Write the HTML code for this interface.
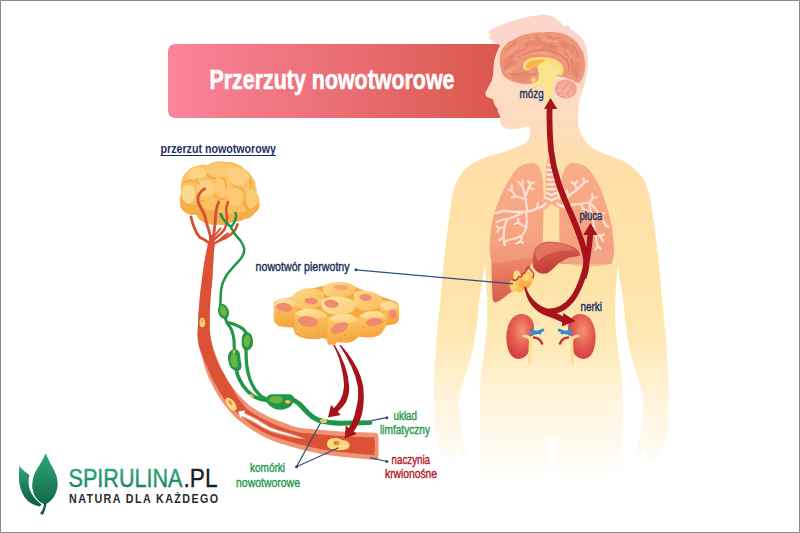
<!DOCTYPE html>
<html lang="pl"><head><meta charset="utf-8"><title>Przerzuty nowotworowe</title>
<style>
html,body{margin:0;padding:0;background:#fff;}
body{width:800px;height:533px;overflow:hidden;position:relative;font-family:"Liberation Sans",sans-serif;}
svg{position:absolute;left:0;top:0;display:block}
text{font-family:"Liberation Sans",sans-serif;}
</style></head><body>
<svg width="800" height="533" viewBox="0 0 800 533">
<defs>
<linearGradient id="gBanner" x1="0" y1="0" x2="1" y2="0">
<stop offset="0" stop-color="#fb849b"/><stop offset="0.5" stop-color="#ea6e74"/><stop offset="1" stop-color="#d9564a"/>
</linearGradient>
<linearGradient id="gBody" gradientUnits="userSpaceOnUse" x1="0" y1="30" x2="0" y2="480">
<stop offset="0" stop-color="#fcdccb"/><stop offset="0.2" stop-color="#fddcc0"/><stop offset="0.3" stop-color="#ffdfa8"/>
<stop offset="0.555" stop-color="#fee3a8"/><stop offset="0.69" stop-color="#fee8b5"/><stop offset="0.8" stop-color="#fff2d6"/><stop offset="0.91" stop-color="#fff9ee"/><stop offset="1" stop-color="#ffffff"/>
</linearGradient>
<radialGradient id="gKid" cx="0.55" cy="0.38" r="0.65">
<stop offset="0" stop-color="#f5946e"/><stop offset="0.55" stop-color="#e35c53"/><stop offset="1" stop-color="#d23b3b"/>
</radialGradient>
<linearGradient id="gLiverD" x1="0" y1="0" x2="0.3" y2="1">
<stop offset="0" stop-color="#e06a56"/><stop offset="1" stop-color="#c23a37"/>
</linearGradient>
<linearGradient id="gLiverL" x1="0" y1="0" x2="0" y2="1">
<stop offset="0" stop-color="#ef9575"/><stop offset="0.45" stop-color="#ea7e63"/><stop offset="1" stop-color="#d95a49"/>
</linearGradient>
<radialGradient id="gTum" cx="0.45" cy="0.35" r="0.7">
<stop offset="0" stop-color="#fdd88a"/><stop offset="0.6" stop-color="#fbc062"/><stop offset="1" stop-color="#f6a945"/>
</radialGradient>
<linearGradient id="gLogo" x1="0" y1="0" x2="0" y2="1">
<stop offset="0" stop-color="#2fa779"/><stop offset="1" stop-color="#0e5a3c"/>
</linearGradient>
<linearGradient id="gLogoT" gradientUnits="userSpaceOnUse" x1="0" y1="467" x2="0" y2="488">
<stop offset="0" stop-color="#35ab80"/><stop offset="1" stop-color="#17835a"/>
</linearGradient>
<linearGradient id="gLung" gradientUnits="userSpaceOnUse" x1="0" y1="162" x2="0" y2="264">
<stop offset="0" stop-color="#f8ae8a"/><stop offset="0.7" stop-color="#f6a380"/><stop offset="1" stop-color="#f39d7c"/>
</linearGradient>
<linearGradient id="gCellSide" x1="0" y1="0" x2="0.2" y2="1">
<stop offset="0" stop-color="#fcca70"/><stop offset="0.6" stop-color="#f9b852"/><stop offset="1" stop-color="#f6a640"/>
</linearGradient>
<linearGradient id="gCellTop" x1="0" y1="0" x2="1" y2="1">
<stop offset="0" stop-color="#fee6a8"/><stop offset="1" stop-color="#fccb74"/>
</linearGradient>
<linearGradient id="gCellTopB" x1="0" y1="0" x2="1" y2="1">
<stop offset="0" stop-color="#fdd88a"/><stop offset="1" stop-color="#fabb58"/>
</linearGradient>
</defs>

<!-- ===== BANNER ===== -->
<g id="banner">
<path d="M176,44 H510 V118 H176 Q168,118 168,110 V52 Q168,44 176,44 Z" fill="url(#gBanner)"/>
<text x="209.5" y="89" font-size="27.6" font-weight="bold" fill="#fff" stroke="#fff" stroke-width="0.6" stroke-linejoin="round" textLength="245" lengthAdjust="spacingAndGlyphs">Przerzuty nowotworowe</text>
</g>

<!-- ===== BODY ===== -->
<g id="body">
<path id="silhouette" fill="url(#gBody)" d="
M 506,36 L 500.3,45 Q 495,55 493.8,63.3 L 493,75.7 L 491.5,81 L 485.5,92.5 Q 485,95.5 487.5,97.2 L 493,99.2 L 494.2,104.2 L 496,107 L 498,109.8 L 497.5,111.6 L 499.3,114 L 500.3,117.2
Q 499.5,121 500.5,123.5 Q 503,128.5 510,129.6 L 520,128.4 Q 526,127 528.5,126 Q 530.3,128 530.2,132 L 530,136
Q 529,141 523.3,144 Q 516,148 507.6,150.7 Q 496,154 485,157.4 Q 474,161.5 467,167.6 Q 460,174 455.8,183.3 Q 452.5,192 451.3,201.4 L 448.4,223.7 L 444.5,255.3 L 440.7,296.3 L 436.6,337.6 L 434,378.9 L 434,420
Q 434.5,432 436.6,440.8 Q 439,450 443,456 Q 447,462 450,461 Q 453,459 455,453 L 458,446 Q 459,452 462,455 Q 465,456 466.3,453 L 464.2,440.8 Q 460.5,430 460,420 L 458.9,399.5
Q 461,388 464,379 L 468,367.8 Q 471.5,355 473.7,345.2 L 477,322.7 L 479.3,300 L 485,265 L 487.2,300 L 487.2,322.7 Q 486.5,335 485,345.2 Q 483.5,357 481.6,367.8 Q 480.2,378 480,390 L 480,492 L 548,492 L 549,438 L 555,438 L 556,492 L 622.5,492
L 622.5,390 Q 622.3,378 620.9,367.8 Q 619,357 617.5,345.2 Q 616,335 615.3,322.7 L 615.3,300 L 617.5,265 L 623.2,300 L 625.5,322.7 L 628.8,345.2 Q 631,355 634.5,367.8 L 638.5,379 Q 641.5,388 643.6,399.5 L 642.5,420 Q 642,430 638.3,440.8
L 636.2,453 Q 637.5,456 640.5,455 Q 643.5,452 644.5,446 L 647.5,453 Q 649.5,459 652.5,461 Q 655.5,462 659.5,456 Q 663.5,450 665.9,440.8 Q 668,432 668.5,420
L 668.5,378.9 L 665.9,337.6 L 661.8,296.3 L 658,255.3 L 654.1,223.7 L 650.1,197.4 Q 648.5,188 643.5,179 Q 637.5,170 627.8,163.2 Q 623,160.8 618.5,159 Q 608,155.5 600.5,152.3 Q 592,148.5 587,143.3 Q 582,138 580.3,132 Q 578,126 578,120.8 L 578.5,105
Q 579.5,99 581.4,93.8 Q 585,84 586,78 Q 588.5,68 588,60 Q 586,40 566,28 Q 540,18 520,26 Q 510,30 506,36 Z"/>
</g>



<!-- ===== ORGANS ===== -->
<g id="organs">
<!-- trachea -->
<path fill="#f7ad8c" d="M546,166 L548,158.500 L551.500,158.500 L556.500,166 L557,197 L563,205 L560.500,209.500 L551.500,204 L545,209.500 L542,205.500 L545.500,197 Z"/>
<g fill="#fde8df">
<rect x="546.800" y="163.800" width="8.500" height="2.200" rx="1"/><rect x="546.300" y="168.700" width="10" height="2.200" rx="1"/><rect x="546.300" y="173.600" width="10.200" height="2.200" rx="1"/>
<rect x="546.300" y="178.500" width="10.300" height="2.200" rx="1"/><rect x="546.300" y="183.300" width="10.400" height="2.200" rx="1"/><rect x="546.300" y="188" width="10.400" height="2.200" rx="1"/>
</g>
<g fill="none" stroke="#fde8df" stroke-width="2.100" stroke-linecap="round" stroke-linejoin="round">
<path d="M546.500,192.800 L551.400,195.300 L556.500,192.800"/><path d="M546,197.600 L551.400,200.300 L557,197.600"/>
</g>
<!-- left lung (viewer left) -->
<path id="lungL" fill="url(#gLung)" d="M532.500,162.800 Q537,163 539.700,167.400 Q542.500,173 542.800,179.800 L543.800,196.300 L543.400,217 L542.800,241.700 L542.500,263 L492.500,263 Q489.500,256 489.500,248 Q489.800,237 491.200,227.300 Q493,216 496.400,206.600 Q500,196 505.600,186 Q510,177 516,169.500 Q524,162.500 532.500,162.800 Z"/>
<!-- right lung -->
<path id="lungR" fill="url(#gLung)" d="M572.800,162.800 Q568,163 564.500,169.500 Q561.500,175 560.800,181.800 L559.400,206.600 L559.400,237.600 L559.800,264 L611.500,264 Q614.200,256 614,248 Q613.500,237 612,227.300 Q610,216 606.800,206.600 Q603.500,196 599.600,186 Q595,177 589.300,169.500 Q581,162.500 572.800,162.800 Z"/>
<!-- bronchi -->
<g fill="none" stroke="#fcdfd4" stroke-linecap="round" stroke-linejoin="round">
<path stroke-width="2.650" d="M545.500,204 Q541,208 536.600,208.700 Q531,211.500 526.300,211.800 L513.900,211.800 Q508,211 503.600,210.800 L496.400,213"/>
<path stroke-width="2.250" d="M527.500,211.500 Q526,203 525.300,196.300 Q524,190 522.200,186 L518,181.500 M522.200,186 L522.800,180.500 M525.300,196.300 Q528,190 530.400,184 L528,181 M530.400,184 L534,182.500 M529,188 L533.500,189"/>
<path stroke-width="2.050" d="M525.800,199 Q520,198 516,196.300 L512,191 L511.800,185 M516,196.300 L511.500,197.500 M512,191 L508.500,189.500 M536.600,208.700 L538,203"/>
<path stroke-width="2.250" d="M522,213 Q515,217 507.700,219 Q505,223 504.600,227.300 Q503.200,233 503.600,237.600 Q504,243 505.600,248 L503.500,252 M505.600,248 L509,250.500"/>
<path stroke-width="2.050" d="M507.700,219 Q501,219 496.400,222.500 M504.600,227.300 L499,228 L496.400,226.200 M499,228 L497.500,232 M503.600,237.600 L499,240 M503.900,242 L508.500,240"/>
<path stroke-width="2.150" d="M526.300,212 Q527,220 526.300,227.300 Q525,232 522,235.500 Q516,239 509.800,239.700 M522,235.500 L521,241 L516,243.800 M521,241 L524,245 M526.300,227.300 Q522,226 518.500,222.500 L514.500,224 M518.500,222.500 L518,218.500"/>
<path stroke-width="2.650" d="M557.500,204 Q560,205.500 563,206.500 Q568,208 572.800,204.600"/>
<path stroke-width="2.250" d="M563,206 Q566,200 568.600,196.300 Q573,192 576.900,190 Q581,186 584,182.900 L587.500,181 M584,182.900 L583.500,178.500 M576.900,190 L575,184.500 L577,181 M575,184.500 L571.500,182 M568.600,196.300 L566.500,190.500"/>
<path stroke-width="2.250" d="M572.800,204.600 Q581,204 589.300,202.500 Q595,207 599.600,215 Q603,220 605.800,225.200 L608.500,227 M589.300,202.500 L593,198 L592,194 M593,198 L597,197.500 M599.600,215 L604,213 M581,204 L583,209 L588,211"/>
<path stroke-width="2.150" d="M589,203 Q593,218 595.500,233.500 Q596.500,240 597.600,245.900 L595.500,250 M597.600,245.900 L601,249 M595.500,233.500 L600,236 L603,241 M600,236 L604,234.500 M593.800,225 L590,229"/>
</g>
<!-- right liver lobe (light) -->
<path id="liverL" fill="url(#gLiverL)" d="M491.500,251 Q500,246.500 515,244.500 Q530,242.500 543.500,242 L540,250 Q536,258 532,264 Q528,270 524,276 L518,286 Q512,292 506,296 Q500,301 495.500,302.500 Q492.500,302 492.500,297 Q491,275 491.500,251 Z"/>
<path fill="#f5a688" opacity="0.550" d="M491.500,251 Q500,246.500 515,244.500 Q530,242.500 543.500,242 L540,250 L537,256 Q514,262 492,263.500 Z"/>
<path fill="#f4a68a" opacity="0.700" d="M559.800,250 Q585,254 613.800,250 Q614,258 611.500,264 Q596,267.500 578,266 Q566,264 559.800,260 Z"/>
<!-- left liver lobe (dark) -->
<path id="liverD" fill="url(#gLiverD)" d="M533,256.500 Q534,250 535.800,247.800 Q541,242 548,241.600 Q556,241.500 563.800,243.400 Q571,245.500 576,248.600 Q580,252 580.400,255.600 Q575,257 569,257.400 Q563,260 558.500,263.500 Q553,269 548,273 Q543,274.500 539.300,273 Q535,271 533,267 Q532.500,262 533,256.500 Z"/>
<path fill="#e8836b" opacity="0.650" d="M535.500,251 Q541,243.500 548,243 Q557,243 564,245 Q571,247 576,250.500 Q566,249.500 556,251.500 Q546,254 538,261 Q535,256 535.500,251 Z"/>
<!-- primary tumor -->
<path id="ptum" fill="#f9c25a" d="M509.500,283 L511,280 L513,279.500 L513.500,276 L514,272 L516,270.500 L519,271 L520,274 L522,275.500 L524,273 L526,271.500 L528,270.500 L530,272 L531.500,274.500 L533.500,276 L534.200,279 L532.500,282 L531,285 L529,287.500 L526.500,289 L524,290 L521.500,292 L518.500,292.300 L516,291 L513,292 L510.500,290 L509.500,287 Z"/>
<path fill="#fbe08c" d="M513.500,276 L514,272 L516,270.500 L519,271 L520,274 L519.500,277 L517,279 L514.500,279.500 Z"/>
<path fill="#fbd776" d="M523,277 L525,274.500 L528,273.500 L530,275.500 L529,279 L526,281 L523.500,280 Z"/>
<path fill="#f6b145" d="M519,282 L522,280 L526,282.500 L530,281 L531,285 L529,287.500 L526.500,289 L524,290 L521,288.500 L518.500,286 Z"/>
<path fill="#fbd06a" d="M510.500,284 L513,282 L516.500,283.500 L518,286.500 L516,289.500 L513,290 L510.800,288 Z"/>
<path fill="none" stroke="#c9433a" stroke-width="1.500" stroke-linejoin="round" stroke-linecap="round" d="M512.200,279.400 L514.500,280.500 L517,279.500 L519,276.500 L521,277 L522.500,274 L525,272.500 L526.500,269 L528.200,266.300 L530,269 L532,271.500 L533.800,273.800 L533.200,277.500"/>
<!-- kidneys -->
<path id="kidL" fill="url(#gKid)" d="M520,314 Q529,313 533,322 Q535.500,329 532,334 Q529,337 529.500,341 Q531,347 529,352 Q525,359 518,359 Q510,358 507.500,347 Q505,336 508,326 Q512,315 520,314 Z"/>
<path id="kidR" fill="url(#gKid)" d="M582,314 Q573,313 569,322 Q566.500,329 570,334 Q573,337 572.500,341 Q571,347 573,352 Q577,359 584,359 Q592,358 594.500,347 Q597,336 594,326 Q590,315 582,314 Z"/>
<g fill="none" stroke-linecap="round">
<path stroke="#fbe090" stroke-width="3.200" d="M524,336 Q529.500,336 530.500,341 L529.500,363"/>
<path stroke="#fbe090" stroke-width="3.200" d="M578,336 Q572.500,336 571.500,341 L572.500,363"/>
<path stroke="#2f8fcc" stroke-width="2.700" d="M531,330 Q536,334 543,330 M531,335 Q536,331.500 540,333"/>
<path stroke="#2f8fcc" stroke-width="2.700" d="M571,330 Q566,334 559,330 M571,335 Q566,331.500 562,333"/>
<path stroke="#cc333a" stroke-width="2.600" d="M534,337.500 Q540,338 542,343.500"/>
<path stroke="#cc333a" stroke-width="2.600" d="M568,337.500 Q562,338 560,343.500"/>
</g>
</g>

<!-- ===== HEAD: hair + brain ===== -->
<g id="head">
<path id="hair" fill="#fcd6cb" d="M488.300,31.800 Q494,27 502.5,24.5 Q511,21 520.5,18.5 Q531,15.5 538.5,15.5 L540,14.5 Q547,14.5 552,16 Q558,19 561.5,23.5 L564,26.5 L568.5,25 Q570,26.5 570,29 Q578,33 582.5,39 Q587,46 587.5,55 Q588,66 585.5,76 L583.5,88 L578,88 L578,50 L560,34 L530,32 L510,40 L500.300,45.200 L493,41.900 L488.500,38 L490.300,36.300 Z"/>
<!-- cerebellum (behind brain) -->
<ellipse id="cerebellum" cx="565.800" cy="89" rx="11" ry="9.600" fill="#f2a28f"/>
<g fill="none" stroke="#f9cbbf" stroke-width="0.750" opacity="0.950" stroke-linecap="round">
<path d="M557,92 Q562,88 566,82"/><path d="M560,96 Q566,92 571,84"/><path d="M565,98 Q571,95 575,88"/><path d="M558,87 Q561,86 563,82.500"/><path d="M562,90.500 L566,91.500"/><path d="M567,88 L570.500,90"/><path d="M564,94.500 L567,96"/><path d="M570,92.500 L573,94"/><path d="M559.500,89.500 L560.500,93"/>
</g>
<path id="brain" fill="#ee957a" d="M500,60 Q499,52 504,46.5 Q508,41 514,39.5 Q520,34.5 528,34 Q535,31.500 543,32.500 Q550,31 557,32.500 Q565,33 570,37 Q577,41 580,47 Q584.500,53 584.800,61 Q586,68 583.600,74.500 Q582.500,80.500 579,83 Q576,82.500 573,80.500 L565.500,77.500 L558,76 L548,80 L536,82 Q528,85.500 520,83.500 Q512,82.500 507,78.500 Q501,75 501,69 Q499,64 500,60 Z"/>
<!-- darker lobes -->
<g fill="#e58870" opacity="0.700">
<path d="M503,62 Q506,56 512,55 Q516,58 514,64 Q510,70 505,70 Q502,66 503,62 Z"/>
<path d="M524,40 Q532,36 540,38 Q544,42 540,46 Q532,48 526,46 Q522,43 524,40 Z"/>
<path d="M560,40 Q568,40 574,46 Q576,52 572,54 Q566,52 562,48 Q558,44 560,40 Z"/>
<path d="M570,62 Q576,60 580,64 Q582,72 578,78 Q572,76 570,70 Z"/>
<path d="M512,72 Q520,70 528,74 Q530,80 524,82 Q516,82 511,78 Z"/>
<path d="M540,44 Q548,42 556,46 Q560,50 556,52 Q548,50 542,50 Z"/>
</g>
<g fill="none" stroke="#df7b64" stroke-width="1.250" stroke-linecap="round" opacity="0.850">
<path d="M506,50 Q512,46 516,41"/><path d="M510,58 Q516,52 524,50 Q530,44 528,38"/><path d="M505,68 Q510,62 516,62"/>
<path d="M536,35 Q538,42 546,44 Q552,48 558,46"/><path d="M548,36 Q552,40 560,38"/><path d="M562,42 Q568,46 566,54 Q572,58 572,64"/>
<path d="M574,46 Q578,52 578,58"/><path d="M510,74 Q518,76 524,72 Q530,76 536,74"/><path d="M518,57 Q530,50 542,50 Q556,50 567,60 Q570,66 568,72"/>
<path d="M574,68 Q578,72 576,78"/><path d="M553,40 Q550,44 552,48"/>
</g>
<g fill="none" stroke="#f5ac92" stroke-width="1.600" stroke-linecap="round" opacity="0.800">
<path d="M508,54 Q512,50 518,47"/><path d="M522,42 Q528,39 534,39"/><path d="M544,39 Q550,42 556,41"/><path d="M566,49 Q570,53 570,58"/><path d="M506,72 Q510,70 514,68"/><path d="M530,54 Q540,52 550,54"/>
</g>
<path id="callosum" fill="#fbe07c" d="M522.800,66.500 Q523.500,60 532,57.800 Q541,56 550,57.800 Q560,60 563.300,67 Q564,72 561.500,75.500 L559.500,75 L558,72 Q557,70 555,69 L549,66 L538,66 Q531,67 527.500,70.500 Q523.500,70 522.800,66.500 Z"/>
<path fill="#f9b648" d="M525.500,66 Q527,61.500 534,60 Q541,59 546,60 Q541,62 538,66 Q532,67 528.500,68.800 Q525.500,68.500 525.500,66 Z"/>
<path id="stem" fill="#fbe48e" d="M537,67 Q542,61 552,64 Q558,66 560,70 L561,74 L557.500,75 L555,77.500 Q553.500,86 551.500,98 L551,112 L547,112 Q546,98 544.500,90 L541,86 L535,88 L533.500,84 L538,80 Q540,74 537,67 Z"/>
<path fill="#fadd78" d="M531,79 l3,-2 l2,3 l-3,3 z M533,86 l3,-1 l1,3 l-3,1.500 z"/>
</g>

<!-- ===== BODY ARROWS ===== -->
<g id="arrowsBody" fill="#a6131a" stroke="none">
<!-- tumor -> junction -> kidney -->
<path d="M524.300,287 C526,300 534,312.500 548,316.500 Q556,319 562.300,322.500 L561.800,326.500 L575.500,321 L563.200,313 L563,316.300 Q556,313 549,309.300 C538,306 529.500,298 525.700,286.500 Z"/>
<!-- junction -> lung -->
<path fill="none" stroke="#a6131a" stroke-width="5.600" d="M545,311.500 Q562,313 573,298 Q587,278 590.500,233"/>
<path d="M590.500,223 L597.600,235 L583.200,235 Z"/>
<!-- main -> brain -->
<path fill="none" stroke="#a6131a" stroke-width="5.800" d="M583.500,278 Q586.300,270 586.400,264 Q586,256 584.400,251.500 C582.500,243 577,228 570.600,213 C562,194 554,175 551,150 C549.500,135 549.300,120 549.600,108"/>
<path d="M550.500,98 L557.300,109 L544,109 Z"/>
</g>


<!-- ===== LEFT ILLUSTRATION ===== -->
<g id="leftIll">
<!-- red vessel branches (behind tumor partially) -->
<!-- metastasis tumor cloud -->
<g id="meta">
<path fill="#fbc062" d="M213,162.500 Q220,160.500 226.300,162 Q233,161 238,164.500 Q243,166 245,170 Q250,172 252.500,177.500 Q256,181 255.300,186 Q258,189 256.300,192.500 Q260,197 259.700,205.700 Q259,211 254.400,213 Q252,218 245,218.800 Q240,222.500 233.800,221.600 Q227,225.500 218.800,224.400 Q211,226 205.600,222.500 Q199,221 196.300,215 Q188,215.500 184,211.300 Q180,208.500 180.300,203.800 Q178.500,198 181.300,192.500 Q179.500,185 182.200,179.400 Q183,174 186.900,171.900 Q190,167 196.300,166.300 Q201,163.500 207.500,165.300 Q210,163 213,162.500 Z"/>
<!-- darker bottom -->
<path fill="#f7ad4a" d="M181,198 Q188,206 198,205 Q206,212 216,210 Q224,216 234,212 Q244,214 250,207 Q256,206 259.700,203 Q260,209 254.400,213 Q252,218 245,218.800 Q240,222.500 233.800,221.600 Q227,225.500 218.800,224.400 Q211,226 205.600,222.500 Q199,221 196.300,215 Q188,215.500 184,211.300 Q180,208.500 180.300,203.800 Z"/>
<!-- light lumps -->
<g opacity="0.800">
<path fill="#fdd98e" d="M188,172.500 Q193,167 200,167.500 Q206,168.500 207,173 Q205,178 198,178.500 Q192,180 188,177.500 Q186.500,175 188,172.500 Z"/>
<path fill="#fccd78" d="M207,166 Q213,162.500 221,163.500 Q229,163 233,167 Q234,172 229,175 Q222,177.500 214,176 Q208,174 206.500,170 Z"/>
<path fill="#fdd485" d="M228,169 Q235,165.500 242,169 Q248,172 249.500,178 Q248,184 241,185.500 Q234,186 230,181 Q226,175 228,169 Z"/>
<path fill="#fde09c" d="M182.500,188 Q186,183.500 191,185 Q195,188 195.500,194 Q195,201 190,203.500 Q185,204 182.500,199 Q181,193 182.500,188 Z"/>
<path fill="#fccd78" d="M243,190 Q248,186.500 253,189.500 Q257.500,194 257.500,201 Q256,208 250,209.500 Q245,208.500 243.500,202 Q242,195 243,190 Z"/>
<path fill="#fdd485" d="M199,181 Q206,178.500 212,182 Q216,186 214,192 Q210,197 203,196.500 Q198,194 197,189 Q197,184 199,181 Z"/>
<path fill="#fccd78" d="M216,179.500 Q223,177 229,181 Q233,186 231,192 Q227,197 220,196 Q215,193.500 214.500,188 Q214.500,183 216,179.500 Z"/>
<path fill="#fcd07c" d="M232,188 Q238,186.500 242,191 Q244,197 241,203 Q236,207 231,204 Q228,199 229,193 Z"/>
</g>
<!-- orange folds -->
<g fill="none" stroke="#f4a540" stroke-linecap="round" stroke-width="1.600" opacity="0.900">
<path d="M183.500,182.500 Q189,179.500 194.500,182"/><path d="M207.500,174.500 Q210,178.500 215,178.500"/><path d="M222,178 Q227,181 226,187"/>
<path d="M234,186.500 Q240,186.500 243.500,191"/><path d="M196.500,196 Q198,201 204,201"/><path d="M215,196 Q219,200 225,199"/><path d="M243,202 Q245,208 250,210"/>
<path d="M196,179 Q197,183 200,184"/><path d="M249.500,179 Q252,183 250.500,188"/>
</g>
<path fill="#f6a945" opacity="0.800" d="M244,192 Q242.500,198 244,204 Q246,208 250,209.500 Q246,204 245.500,198 Q245.500,194 247,190.500 Z"/>
</g>
<!-- red vessel trunk & branches -->
<g fill="none" stroke="#d94f33" stroke-linecap="round" stroke-linejoin="round">
<path stroke-width="2.800" d="M210.500,244 Q205,239.500 200,237.500 Q196,233 194.400,228 Q192,222 191,217"/>
<path stroke-width="2.800" d="M211.500,243 Q210,233 207.500,226.300 Q205.500,220 204.700,215 Q201,208 198,202 Q197.500,197 199,194.400 Q201,190.500 204.700,188.800"/>
<path stroke-width="2.800" d="M212.500,243 Q214,233 215,224.400 Q215.500,217 216,211.300 Q217,206 218.800,202"/>
<path stroke-width="2.500" d="M213.500,240 Q217.500,236.500 220.600,233.800 Q223.500,231 225.300,228 Q226.800,222 227.200,217 Q226,212 226.300,207.500 L228,202"/>
<path stroke-width="2.500" d="M214,243.500 Q220,240 226.300,237.500 Q230.500,235 233.800,232 Q236.500,228 237.500,224.400"/>
<path stroke-width="2.100" d="M214,236 Q218,232 220.500,228.500 M219,240.500 Q224,236 228,233.500"/>
</g>
<path fill="#d94f33" d="M210,235 L213.500,235 L214.800,246 L207.600,246 Z"/>
<path id="vessel" fill="#f19476" d="M207.800,245 L214.600,245 Q213,262 212.500,277.500 Q210,300 209.700,315 L209.700,330 Q211,343 216.300,356.300 Q221,370 229.400,382.500 Q238,396 250.400,406 Q264,416 282,422 Q291,426 300,428 L340,431.500 L375,432.800 Q378.500,433 378.500,436.500 L378.500,456.500 Q378.500,460 375,460 L360,458.500 Q342,457 325,454.700 Q302,450.500 280,443.500 Q262,437 250,428.500 Q241,422.500 234.600,416.700 Q222,404 213.600,387.800 Q205,372 201.800,356.300 Q198,346 197.500,335 L198.400,315 Q199.500,296 202.200,277.500 Q204,262 207.800,245 Z"/>
<path id="vesselIn" fill="#db5236" d="M207.800,245 L214.600,245 Q213,262 212.500,277.500 Q210,300 209.700,315 L209.700,330 Q210.500,343 215.500,357 Q219,366 224,374 Q227,381 231.500,387 Q238,399.500 247.500,409.500 Q256,416 266,420.500 Q273,424 281,427 Q290,430.500 299,432.500 L340,436 L375,437.500 L375,455.300 L360,454 Q342,452.500 325,450 L310,447 Q295,443.500 281,439 Q274,437 268,434.500 Q259,430 251,424.500 Q244,419.500 238,413.500 Q230,406 224,398.500 Q219,392 215.500,384.500 Q211,377 208.500,370 Q205,363 203,357 Q200,351 198.700,345 Q197.600,340 197.500,335 L198.400,315 Q199.500,296 202.200,277.500 Q204,262 207.800,245 Z"/>
<path fill="#e8775a" d="M373.500,437.500 Q376.500,446 373.500,455.200 L375,455.300 L375,437.500 Z"/>
<!-- white arrow + trail in vessel -->
<path fill="#ee8a6c" d="M242.500,411.500 Q248,414.500 255,417.400 Q262,421.500 270,426.400 Q280,430.800 290,433 Q298,435.500 306,439.300 Q298,438.500 290,437.200 Q280,435 270,431.800 Q262,428 255,423.700 Q248,420 241,417.500 Z"/>
<path fill="#ffffff" d="M238.100,411.400 L245.400,410.600 L244,413.200 Q249,415.800 255,418.800 Q262,423 270,427.800 Q280,431.800 290,434.300 Q297,436.300 303.800,438.800 Q297,437.600 290,435.800 Q280,433.600 270,430.400 Q262,427 255,422.300 Q249,418.800 242.300,416 L240.400,417.800 Z"/>
<!-- yellow cells in blood -->
<g>
<ellipse cx="202.300" cy="322.500" rx="2.700" ry="4.800" fill="#fadc7c"/><ellipse cx="202.300" cy="321" rx="1.200" ry="1.800" fill="#f7a04a"/>
<ellipse cx="231.100" cy="404.100" rx="3.800" ry="7.600" transform="rotate(-38 231.100 404.100)" fill="#fadc7c"/><ellipse cx="230.300" cy="402.500" rx="1.300" ry="3" transform="rotate(-38 230.300 402.500)" fill="#f4863f"/>
<path fill="#fadc7c" d="M327,444 Q327,438.500 334,438 Q339,437.500 342,440 Q349,440.500 349.800,445 Q349.500,449.500 343,450 Q336,450.500 331,449 Q327,447.500 327,444 Z"/>
<ellipse cx="336.500" cy="443" rx="3.200" ry="2.300" fill="#f6903f"/><ellipse cx="335.500" cy="442.500" rx="1.200" ry="1" fill="#ee5a3a"/>
</g>
<!-- lymph vessels -->
<g fill="none" stroke="#1d9748" stroke-linecap="round" stroke-linejoin="round">
<path stroke-width="2.500" d="M235.600,213 Q236.500,216.500 235.600,218.800 Q234,223.500 231,227.200 Q232.500,230.500 234.700,233.800 Q237.500,237.500 240.300,240.400 Q243.500,244.500 244.300,248.800 Q244.500,254 240.600,258.800 Q234,266 227.500,273.800 Q222,282 221,290.600 L220.300,305"/>
<path stroke-width="2.500" d="M220.600,214 Q222,217.500 224.400,220.600 Q227.500,224 231,227.200"/>
<path stroke-width="3.100" d="M225.600,318.800 Q227,324 230,327 Q233,332 234,340 L234.300,350"/>
<path stroke-width="3" d="M229,322.800 Q234,324 238.800,326.300 Q244,328.500 246.300,333"/>
<path stroke-width="3.300" d="M246,349.500 Q246,358 246.800,365.500 Q247.800,373 249.800,379 Q252,385 255,389.500 Q258,393.500 261,396.300 L267,399.500"/>
<path stroke-width="3.700" d="M236.300,370 Q237.500,376 240,380.500 Q243,386.500 247.500,391 Q251,394.500 255,397 Q260,399.500 267,400.300"/>
<path stroke-width="4.900" d="M292,399.500 Q296.500,401 300,404.500 Q304,409 308,413 Q312,417.200 317.500,419.800 Q328,423 340,423.200 L370,422.600"/>
</g>
<!-- lymph nodes -->
<g>
<ellipse cx="223.500" cy="311.500" rx="5.300" ry="7.600" transform="rotate(-18 223.500 311.500)" fill="#1d9748"/>
<ellipse cx="223.300" cy="311" rx="3.300" ry="5.400" transform="rotate(-18 223.300 311)" fill="#6fb443"/>
<path fill="#1d9748" d="M243,334 Q247,330.500 251,334 Q254,340 252.500,346 Q250,351 245,350.500 Q241.500,348 241.700,342 Q241.500,337 243,334 Z"/>
<ellipse cx="247" cy="341" rx="3.400" ry="6" transform="rotate(6 247 341)" fill="#6fb443"/>
<path fill="#1d9748" d="M230.500,351 Q233,348.500 237,349.500 Q239.500,351 240,355 L241.500,366 Q241.500,370.500 237,370.800 Q232,370.500 229.500,365.500 Q227.500,360 228,355.500 Q228.500,352.500 230.500,351 Z"/>
<path fill="#6fb443" d="M231.500,354.500 Q234,352.500 236.500,355 L237.800,365 Q237.500,368 234.500,367.500 Q231.500,366 230.500,361 Q230,357 231.500,354.500 Z"/>
<ellipse cx="234" cy="351.800" rx="1.400" ry="2.100" transform="rotate(20 234 351.800)" fill="#f6b04a"/>
<path fill="#1d9748" d="M265.800,400 Q266.500,395.500 271,394.300 L290,394.300 Q294,395.500 294.200,398.500 Q294,402.500 291,406 Q286,409.800 280.500,409.800 Q274,409.500 270,406 Q266.500,403 265.800,400 Z"/>
<path fill="#6fb443" d="M269.300,399 Q270,396.500 273,396.300 L281,396.500 Q283,397.500 282.800,400 Q282,403 278,403.300 Q273,403.500 270.500,402 Q269,401 269.300,399 Z"/>
<ellipse cx="287.700" cy="401.800" rx="3" ry="1.800" transform="rotate(10 287.700 401.800)" fill="#f6a44a"/><ellipse cx="287.700" cy="401.800" rx="1.300" ry="0.800" fill="#fbd888"/>
<ellipse cx="251.700" cy="395.800" rx="2.400" ry="1.400" transform="rotate(38 251.700 395.800)" fill="#f6b04a"/>
<ellipse cx="323.500" cy="421" rx="3.400" ry="1.900" transform="rotate(8 323.500 421)" fill="#fadc7c"/><ellipse cx="323.500" cy="421" rx="1.500" ry="0.900" fill="#f6a04a"/>
</g>
</g>


<!-- ===== PRIMARY TUMOR BLOCK ===== -->
<g id="primBlock">
<!-- base silhouette (darker) -->
<path fill="#f6a842" d="M273.800,304 Q274,300.500 279,299.500 L291,297.500 L300,292.500 L314,288 L324.500,285.500 L338.500,282 L349,284.500 L363,290 L377,295 L394.500,301 Q399,303 398.900,306.500 L398.900,318.800 Q398,323.500 394.500,324 L385.800,325.800 Q383,330 378.800,331.900 Q374,336 370,337 L360.400,337 L357.800,336.300 Q354,341 349,342.400 L336.800,342 L335,344.500 L328,344.500 L327,339.800 L322.800,338 Q316,339.500 308.800,338.900 Q300,338 295.600,334.500 L293,327.500 Q285,328 278,325.800 Q274,323 273.800,318.800 Z"/>
<!-- back tops -->
<path fill="url(#gCellTopB)" d="M292,296.500 Q298,289 308,288.300 Q318,287.500 323,292 Q326,298 322,304 Q316,310 306,309.500 Q296,309 293,303 Q291,299.500 292,296.500 Z"/>
<path fill="url(#gCellTopB)" d="M323,286 Q330,282 340,282 Q350,282 355,286.500 Q357,291 351,295 Q344,299 335,298 Q326,297 323,292 Z"/>
<path fill="url(#gCellTop)" d="M321,300.500 Q328,296 338,296.500 Q350,297 355,302 Q357,308 352,312 Q344,315.500 334,314.500 Q324,313.500 321.500,307 Z"/>
<path fill="url(#gCellTopB)" d="M354,293 Q360,289.500 368,291 Q378,293 382.500,298 Q384.500,304 379,308 Q372,311.500 364,310.500 Q356,309.500 354,303 Z"/>
<!-- cell A left -->
<path fill="url(#gCellSide)" d="M274,304.500 Q275,299 284,298.300 Q294,298 297,303.500 L297.500,320 Q296,327 288,326.500 Q276,326 274,318.500 Z"/>
<path fill="url(#gCellTop)" d="M274.600,304.500 Q276,299 285,298.500 Q294,298.300 296.800,303.500 Q293,309.500 285,309.500 Q277,309 274.600,304.500 Z"/>
<!-- cell F far right -->
<path fill="url(#gCellSide)" d="M380,303 Q386,299.500 393,301.500 Q399,303.500 398.900,310 L398.700,319 Q397,324.500 390,324.500 Q383,324.500 380,319 Z"/>
<path fill="url(#gCellTop)" d="M380.500,303.500 Q386,300 393,302 Q397.500,303.500 398.300,308 Q392,311 386,310 Q381,308.500 380.500,303.500 Z"/>
<!-- cell G front left -->
<path fill="url(#gCellSide)" d="M294,314 Q300,308.500 312,309.500 Q324,310.500 329,316.500 L329,333 Q324,339.500 312,339 Q300,338.500 296,333 Z"/>
<path fill="url(#gCellTop)" d="M296,313 Q302,308 312,309 Q323,310 328,316 Q320,319.500 311,318.500 Q301,318 296,313 Z"/>
<!-- cell I front right -->
<path fill="url(#gCellSide)" d="M359,316 Q366,310.500 376,311 Q384,312 386.500,317 L386,326 Q383,333 378,336 Q372,338 366,337.500 Q361,337 359,333 Z"/>
<path fill="url(#gCellTop)" d="M359.500,315.500 Q366,310.500 376,311.300 Q383,312.300 386,317 Q379,320 371,319.500 Q363,319 359.500,315.500 Z"/>
<!-- cell H front center -->
<path fill="url(#gCellSide)" d="M328,319 Q334,313 346,313.500 Q356,314.500 359.500,320.500 L359.500,335 Q356,342 348,342.500 L337,342.300 L335.200,344.600 L328,344.600 L327.200,339.500 Z"/>
<path fill="url(#gCellTop)" d="M328.500,319 Q335,313.500 346,314 Q355,315 359,320.500 Q351,324 343,323 Q334,322.500 328.500,319 Z"/>
<!-- nuclei -->
<g fill="#f08a70">
<ellipse cx="284.300" cy="307.400" rx="8.200" ry="4.400" transform="rotate(8 284.300 307.400)"/>
<ellipse cx="311" cy="301" rx="6.600" ry="3.300" transform="rotate(4 311 301)"/>
<ellipse cx="341" cy="287.500" rx="7.500" ry="2.400" transform="rotate(6 341 287.500)" opacity="0.600"/>
<ellipse cx="331.500" cy="303.800" rx="7.300" ry="4" transform="rotate(8 331.500 303.800)"/>
<ellipse cx="365.500" cy="297.500" rx="6.200" ry="3.400" transform="rotate(6 365.500 297.500)"/>
<ellipse cx="392.500" cy="314" rx="3.800" ry="4.400"/>
<ellipse cx="308" cy="321.500" rx="10.200" ry="5.400" transform="rotate(8 308 321.500)"/>
<ellipse cx="339.500" cy="328" rx="9.400" ry="4.800" transform="rotate(-24 339.500 328)"/>
<ellipse cx="374" cy="322" rx="8.200" ry="4.200" transform="rotate(-8 374 322)"/>
</g>
<g fill="#e9823a">
<circle cx="279" cy="313" r="0.800"/><circle cx="288" cy="321" r="0.800"/><circle cx="296.500" cy="324" r="0.700"/><circle cx="345" cy="335" r="0.900"/><circle cx="341" cy="339" r="0.800"/><circle cx="364" cy="327" r="0.800"/><circle cx="383" cy="322" r="0.700"/><circle cx="318" cy="330" r="0.700"/><circle cx="349" cy="338.500" r="0.700"/>
</g>
</g>
<!-- ===== LEFT DARK ARROWS ===== -->
<g id="arrowsLeft" fill="#a6131a">
<path d="M333.200,345 Q339,356 341,366 Q344,378 344,386.500 Q343.500,394 340.500,399.500 Q338,404 334,408 L331.100,404.900 L328,417.500 L340.700,414.900 L337.800,411.800 Q343,407 345.800,402.500 Q349.500,395 349.200,386.500 Q348.500,376 345,366 Q341,355 334.800,345 Z"/>
<path d="M339.300,345 Q346,355 351.200,366 Q356,376 357.800,386.500 Q359,398 356.400,407.200 Q355,415 352.300,421.600 L348.900,428 L345.800,425.500 L344.600,438.500 L356.800,434.100 L353.700,431.600 Q357,427 359.500,421.600 Q362.500,414 363.200,407.200 Q364.500,397 363.200,386.500 Q361,375 355.800,366 Q350,355 340.700,345 Z"/>
</g>
<!-- ===== POINTER LINES ===== -->
<g id="pointers" stroke="#2f4f82" stroke-width="1.250" fill="#2c4a7c">
<line x1="356" y1="269.800" x2="513" y2="283.800"/><circle cx="356" cy="269.800" r="1.500" stroke="none"/>
<line x1="296.500" y1="466.700" x2="320.500" y2="423"/><line x1="296.500" y1="466.700" x2="338.500" y2="447.700"/><circle cx="296.500" cy="466.700" r="1.500" stroke="none"/>
<line x1="386.800" y1="417.700" x2="371.500" y2="420.700"/><circle cx="386.800" cy="417.700" r="1.500" stroke="none"/>
<line x1="386.800" y1="461.500" x2="370" y2="457.700"/><circle cx="386.800" cy="461.500" r="1.500" stroke="none"/>
</g>

<!-- ===== LABELS ===== -->
<g id="labels" font-size="13.5" stroke-width="0.45" stroke-linejoin="round">
<text x="160.5" y="153.3" font-weight="bold" fill="#1d3260" textLength="115.5" lengthAdjust="spacingAndGlyphs">przerzut nowotworowy</text>
<rect x="160.5" y="155" width="115.5" height="1" fill="#1d3260"/>
<text x="255.6" y="271" fill="#1d3260" stroke="#1d3260" textLength="94" lengthAdjust="spacingAndGlyphs">nowotwór pierwotny</text>
<text x="519.6" y="98" fill="#1d3260" stroke="#1d3260" textLength="24" lengthAdjust="spacingAndGlyphs">mózg</text>
<text x="579.4" y="220.4" fill="#1d3260" stroke="#1d3260" textLength="23" lengthAdjust="spacingAndGlyphs">płuca</text>
<text x="580.5" y="311.3" fill="#1d3260" stroke="#1d3260" textLength="21.5" lengthAdjust="spacingAndGlyphs">nerki</text>
<text x="393.6" y="419.6" fill="#2a9a52" stroke="#2a9a52" textLength="23.4" lengthAdjust="spacingAndGlyphs">układ</text>
<text x="380" y="434" fill="#2a9a52" stroke="#2a9a52" textLength="50" lengthAdjust="spacingAndGlyphs">limfatyczny</text>
<text x="391.6" y="463.6" fill="#b5222d" stroke="#b5222d" textLength="38.4" lengthAdjust="spacingAndGlyphs">naczynia</text>
<text x="385" y="478" fill="#b5222d" stroke="#b5222d" textLength="52" lengthAdjust="spacingAndGlyphs">krwionośne</text>
<text x="250" y="472" fill="#2a9a52" stroke="#2a9a52" textLength="35" lengthAdjust="spacingAndGlyphs">komórki</text>
<text x="236" y="486.800" fill="#2a9a52" stroke="#2a9a52" textLength="64" lengthAdjust="spacingAndGlyphs">nowotworowe</text>
</g>


<!-- ===== LOGO ===== -->
<g id="logo">
<path fill="url(#gLogo)" d="M45.700,453.500 Q50,463 54.500,471 Q58.500,478.500 57.500,487 Q56,498 46.500,504 Q45.500,510 42.800,515 L40,513.500 Q43.500,509 44,504.200 Q34,500 32.300,488 Q31.500,478 37,469 Q42.500,461 45.700,453.500 Z"/>
<path fill="url(#gLogo)" d="M19.300,466 Q24,471.500 29.500,475 Q27.500,482 29.500,488.500 Q32.500,498 41.500,504.500 L40,506.500 Q30,505 24.500,497 Q19.500,489 19,480 Q18.800,472 19.300,466 Z"/>
<text x="68.500" y="486.800" font-size="26.400" fill="url(#gLogoT)" stroke="url(#gLogoT)" stroke-width="0.450" textLength="114" lengthAdjust="spacingAndGlyphs">SPIRULINA</text>
<text x="183.500" y="486.800" font-size="26.400" fill="#1c1c1c" stroke="#1c1c1c" stroke-width="0.350" textLength="34" lengthAdjust="spacingAndGlyphs">.PL</text>
<text transform="translate(69,503) scale(0.840,1)" font-size="12.800" font-weight="bold" fill="#2a2a2a" letter-spacing="1.650">NATURA DLA KAŻDEGO</text>
</g>

<!-- ===== FRAME ===== -->
<path d="M0.5,0.5 H799.5 V532.5 H0.5 Z" fill="none" stroke="#8a8a8a" stroke-width="1"/>
</svg>
</body></html>
